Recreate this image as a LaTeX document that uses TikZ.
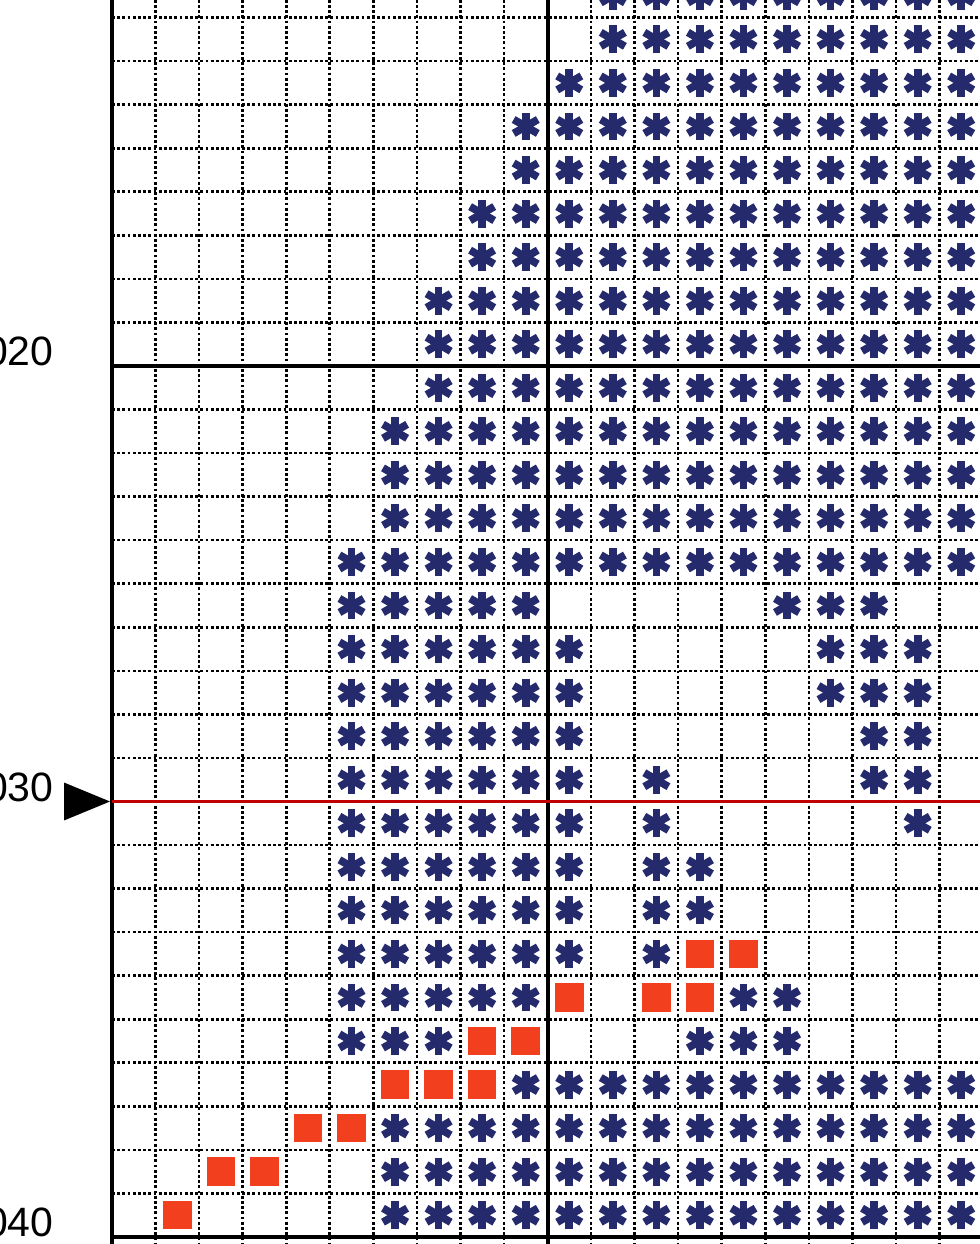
\documentclass[tikz,border=0pt]{standalone}
\usepackage{fontspec}
\setmainfont{Liberation Sans}
\definecolor{navyast}{RGB}{36,42,108}
\definecolor{redsq}{RGB}{242,64,30}
\definecolor{redline}{RGB}{192,0,0}
\tikzset{
  gridline/.style={line width=1.3pt, dash pattern=on 1.4pt off 1.2pt, black},
  thickline/.style={line width=2pt, black},
  markline/.style={line width=1.8pt, redline},
  yearlabel/.style={anchor=base east, inner sep=0pt, font=\fontsize{20.5pt}{24pt}\selectfont},
  ast/.pic={
    \foreach \a in {90,30,150}{
      \fill[navyast, rotate=\a] (-0.32,-0.088) rectangle (0.32,0.088);
    }
  },
  sq/.pic={\fill[redsq] (-0.327,-0.327) rectangle (0.327,0.327);}
}
\begin{document}
\begin{tikzpicture}[x=21.775pt, y=-21.775pt]
\useasboundingbox[fill=white] (-2.5718,-8.4041) rectangle (19.931,20.161);
% dotted grid
\foreach \c in {1,...,9,11,12,...,19}
  \draw[gridline] (\c,-8.41) -- (\c,20.17);
\foreach \r in {-8,...,-1,1,2,...,9,11,12,...,19}
  \draw[gridline] (0,\r) -- (19.94,\r);
% thick lines
\draw[thickline] (0,-8.41) -- (0,20.17);
\draw[thickline] (10,-8.41) -- (10,20.17);
\draw[thickline] (0,0) -- (19.94,0);
\draw[thickline] (0,20) -- (19.94,20);
\draw[markline] (0,10) -- (19.94,10);
% labels and marker
\node[yearlabel] (y2020) at (-1.332,0) {2020};
\node[yearlabel] (y2030) at (-1.332,10) {2030};
\node[yearlabel] (y2040) at (-1.332,20) {2040};
\fill[black] (-1.102,9.564) -- (-0.046,10) -- (-1.102,10.436) -- cycle;
% asterisks
\foreach \r/\l in {
  -9/{11,...,19}, -8/{11,...,19}, -7/{10,...,19},
  -6/{9,...,19}, -5/{9,...,19}, -4/{8,...,19}, -3/{8,...,19},
  -2/{7,...,19}, -1/{7,...,19}, 0/{7,...,19},
  1/{6,...,19}, 2/{6,...,19}, 3/{6,...,19}, 4/{5,...,19},
  5/{5,6,7,8,9,15,16,17},
  6/{5,6,7,8,9,10,16,17,18},
  7/{5,6,7,8,9,10,16,17,18},
  8/{5,6,7,8,9,10,17,18},
  9/{5,6,7,8,9,10,12,17,18},
  10/{5,6,7,8,9,10,12,18},
  11/{5,6,7,8,9,10,12,13},
  12/{5,6,7,8,9,10,12,13},
  13/{5,6,7,8,9,10,12},
  14/{5,6,7,8,9,14,15},
  15/{5,6,7,13,14,15},
  16/{9,...,19}, 17/{6,...,19}, 18/{6,...,19}, 19/{6,...,19}}{
  \foreach \c in \l
    \pic at (\c+0.5,\r+0.5) {ast};
}
% red squares
\foreach \r/\l in {13/{13,14}, 14/{10,12,13}, 15/{8,9}, 16/{6,7,8}, 17/{4,5}, 18/{2,3}, 19/{1}}{
  \foreach \c in \l
    \pic at (\c+0.5,\r+0.5) {sq};
}
\end{tikzpicture}
\end{document}
